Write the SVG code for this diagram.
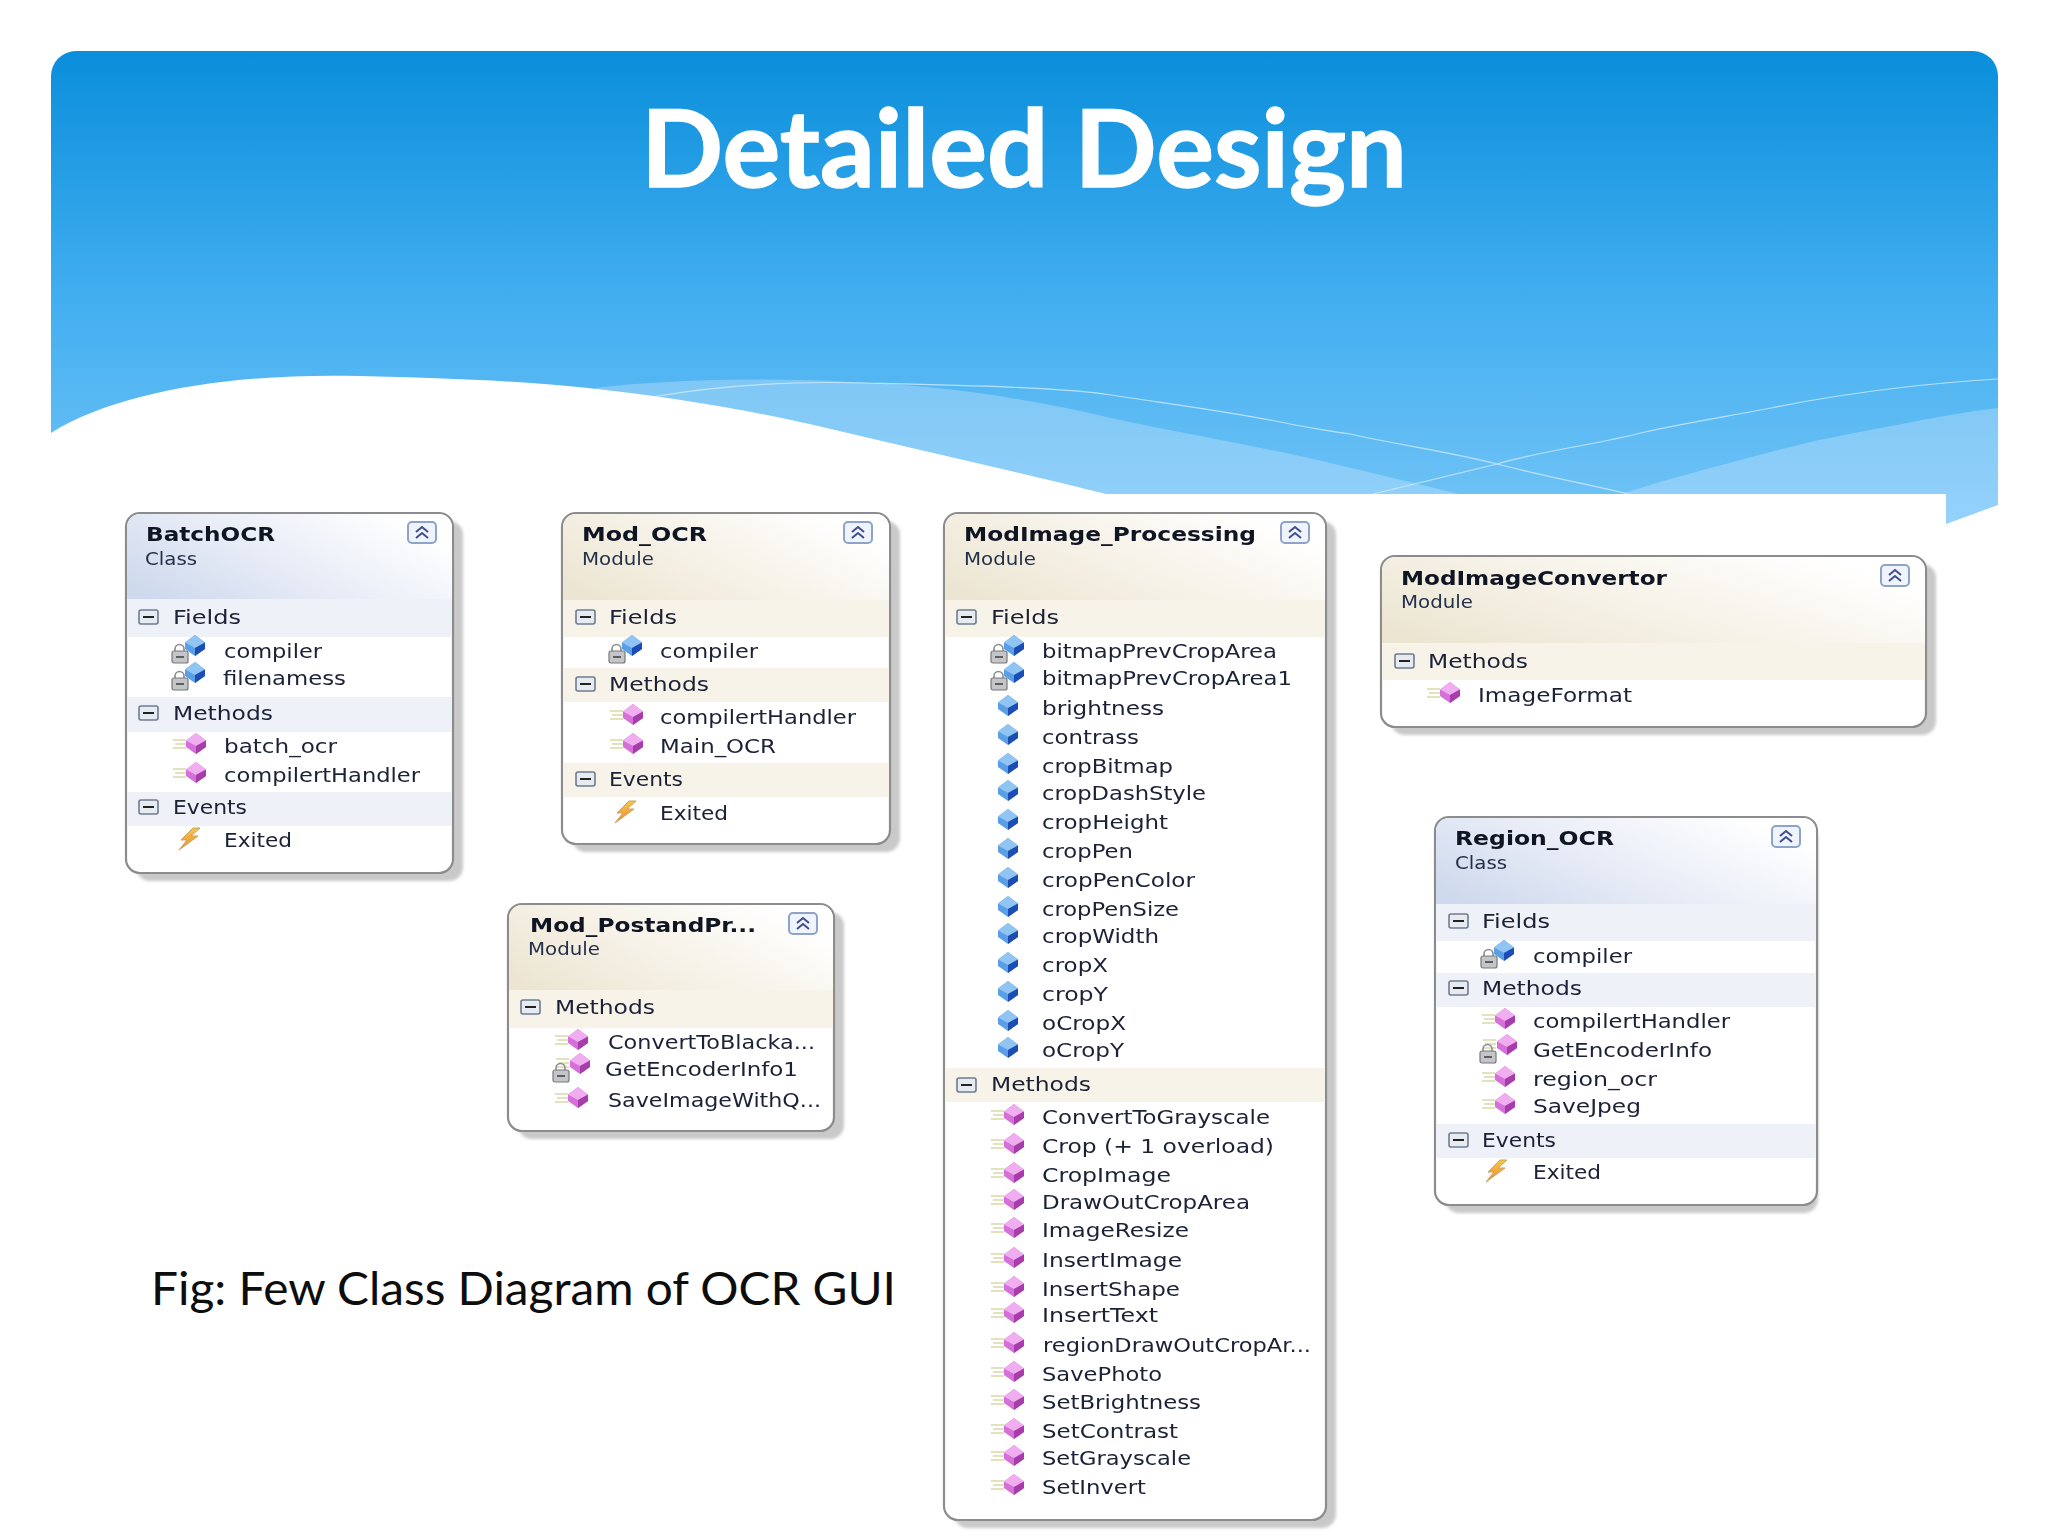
<svg xmlns="http://www.w3.org/2000/svg" xmlns:xlink="http://www.w3.org/1999/xlink" width="2048" height="1536" viewBox="0 0 2048 1536">
<style>
text{font-family:"DejaVu Sans","Liberation Sans",sans-serif;fill:#1b2136}
.t{font-weight:bold;font-size:20px;fill:#101222}
.s{font-size:17px;fill:#23304a}
.h,.i{font-size:20px}
.shadow{fill:#c9c9c9;filter:url(#shd)}
.box{fill:#fff;stroke:#8c8c8c;stroke-width:2.2}
.bc{fill:#eff1f8}.bm{fill:#f7f3e8}
.wl{fill:none;stroke:#d8effd;stroke-width:1.2;opacity:.75}
.title{font-family:Lato,"Liberation Sans",sans-serif;font-weight:bold;font-size:107px;fill:#fff;stroke:#fff;stroke-width:1.4}
.cap{font-family:Lato,"Liberation Sans",sans-serif;font-size:47px;fill:#0d0d0d}
</style>
<defs>
<linearGradient id="sky" gradientUnits="userSpaceOnUse" x1="0" y1="51" x2="0" y2="494"><stop offset="0" stop-color="#0a8edb"/><stop offset=".55" stop-color="#41aef0"/><stop offset="1" stop-color="#6cc1f5"/></linearGradient>
<linearGradient id="pale" gradientUnits="userSpaceOnUse" x1="0" y1="380" x2="0" y2="525"><stop offset="0" stop-color="#7fc7f5"/><stop offset="1" stop-color="#94d2fb"/></linearGradient>
<linearGradient id="hc" x1="0" y1=".85" x2="1" y2=".35"><stop offset="0" stop-color="#ced9ed"/><stop offset=".45" stop-color="#e6ebf6"/><stop offset="1" stop-color="#fff"/></linearGradient>
<linearGradient id="hm" x1="0" y1=".85" x2="1" y2=".35"><stop offset="0" stop-color="#ece5d2"/><stop offset=".45" stop-color="#f6f1e6"/><stop offset="1" stop-color="#fff"/></linearGradient>
<linearGradient id="bolt" x1="0" y1="0" x2="0" y2="1"><stop offset="0" stop-color="#f8c64a"/><stop offset="1" stop-color="#ee8a33"/></linearGradient>
<filter id="soft" x="-5%" y="-5%" width="110%" height="110%"><feGaussianBlur stdDeviation="0.55"/></filter>
<filter id="shd" x="-5%" y="-5%" width="110%" height="110%"><feGaussianBlur stdDeviation="1.8"/></filter>
<g id="mb"><rect x="0" y="-14" width="19" height="14" rx="2" fill="#e6ebf1" stroke="#6f7c90" stroke-width="1.6"/><path d="M4,-7H15" stroke="#222" stroke-width="2"/></g>
<g id="btn"><rect x="0" y="0" width="28" height="21" rx="4" fill="#eff3fb" stroke="#8fa3c8" stroke-width="2"/><path d="M8,10L14,5L20,10M8,16L14,11L20,16" fill="none" stroke="#3f4e8e" stroke-width="2"/></g>
<g id="dia"><path d="M0,-1L10,6.5V13L0,20L-10,13V6.5Z" fill="#5a9fe6"/><path d="M0,-1L10,6.5L0,12L-10,6.5Z" fill="#8fc4f3"/><path d="M0,12L10,6.5V13L0,20Z" fill="#1c4db4"/></g>
<g id="mdia"><path d="M0,-1L10,6.5V13L0,20L-10,13V6.5Z" fill="#d56fd8"/><path d="M0,-1L10,6.5L0,12L-10,6.5Z" fill="#f0aef0"/><path d="M0,12L10,6.5V13L0,20Z" fill="#a63cab"/></g>
<g id="lock"><path d="M3,0V-2a4,4 0 0 1 9,0V0" fill="none" stroke="#8b8b90" stroke-width="1.6"/><rect x="0" y="0" width="16" height="12" rx="2" fill="#c4c5c9" stroke="#77787d" stroke-width="1.2"/><path d="M4,6H12" stroke="#444" stroke-width="1.6"/></g>
<g id="lines"><path d="M0,0H13M2,4H13M0,8H13" stroke="#d9d9a6" stroke-width="1.5"/></g>
<g id="f"><use href="#dia" x="-35" y="-19"/></g>
<g id="lf"><use href="#lock" x="-52" y="-7"/><use href="#dia" x="-29" y="-22"/></g>
<g id="m"><use href="#lines" x="-51" y="-13"/><use href="#mdia" x="-28" y="-19"/></g>
<g id="lm"><use href="#lines" x="-50" y="-17"/><use href="#lock" x="-53" y="-6"/><use href="#mdia" x="-26" y="-22"/></g>
<g id="e"><path d="M-31,-19L-24,-19L-33,-11L-26,-11L-45,3L-37,-7L-43,-7Z" fill="url(#bolt)" stroke="#c8a25c" stroke-width="1"/></g>
</defs>

<g id="background">
<path d="M51,76a25,25 0 0 1 25,-25H1973a25,25 0 0 1 25,25V494H51Z" fill="url(#sky)"/>
<path d="M595,388C680,378 800,376 927,387C990,393 1050,404 1111,418C1175,432 1235,442 1295,455C1350,467 1400,480 1459,494V500H595Z" fill="url(#pale)"/>
<path d="M1624,493C1675,477 1725,464 1771,452C1815,440 1858,432 1897,425C1930,418 1965,412 1998,408V505L1946,524V494H1624Z" fill="url(#pale)"/>
<path class="wl" d="M652,397C720,385 790,381 863,383C950,385 1060,387 1111,395C1170,404 1235,412 1295,425C1315,429 1332,431 1350,434C1400,445 1450,452 1497,464C1540,475 1590,485 1628,494"/>
<path class="wl" d="M1373,494L1497,464C1545,450 1595,445 1645,432C1690,422 1730,416 1771,408C1815,399 1855,393 1897,388C1930,384 1965,381 1998,379"/>
<path d="M45,437L51,433C120,390 240,373 359,376C440,378 510,380 588,388C680,398 760,412 835,430C930,452 1020,473 1106,494V560H45Z" fill="#fff"/>
<rect x="45" y="494" width="1901" height="1042" fill="#fff"/>
<text class="title" x="641" y="187" textLength="766" lengthAdjust="spacingAndGlyphs">Detailed Design</text>
<text class="cap" x="151" y="1305" textLength="745" lengthAdjust="spacingAndGlyphs">Fig: Few Class Diagram of OCR GUI</text>
</g>

<g id="BatchOCR" filter="url(#soft)">
<rect class="shadow" x="136" y="521" width="327" height="360" rx="14"/>
<rect class="box" x="126" y="513" width="327" height="360" rx="14"/>
<path d="M127,599V527a13,13 0 0 1 13,-13H439a13,13 0 0 1 13,13V599Z" fill="url(#hc)"/>
<rect class="bc" x="127" y="599" width="325" height="38"/><rect class="bc" x="127" y="697" width="325" height="35"/><rect class="bc" x="127" y="792" width="325" height="34"/>
<use href="#btn" x="408" y="522"/>
<text class="t" x="146" y="541" textLength="129" lengthAdjust="spacingAndGlyphs">BatchOCR</text>
<text class="s" x="145" y="565" textLength="52" lengthAdjust="spacingAndGlyphs">Class</text>
<use href="#mb" x="139" y="624"/><text class="h" x="173" y="624" textLength="68" lengthAdjust="spacingAndGlyphs">Fields</text>
<use href="#lf" x="224" y="658"/><text class="i" x="224" y="658" textLength="98" lengthAdjust="spacingAndGlyphs">compiler</text>
<use href="#lf" x="224" y="685"/><text class="i" x="223" y="685" textLength="123" lengthAdjust="spacingAndGlyphs">filenamess</text>
<use href="#mb" x="139" y="720"/><text class="h" x="173" y="720" textLength="100" lengthAdjust="spacingAndGlyphs">Methods</text>
<use href="#m" x="224" y="753"/><text class="i" x="224" y="753" textLength="113" lengthAdjust="spacingAndGlyphs">batch_ocr</text>
<use href="#m" x="224" y="782"/><text class="i" x="224" y="782" textLength="196" lengthAdjust="spacingAndGlyphs">compilertHandler</text>
<use href="#mb" x="139" y="814"/><text class="h" x="173" y="814" textLength="74" lengthAdjust="spacingAndGlyphs">Events</text>
<use href="#e" x="224" y="847"/><text class="i" x="224" y="847" textLength="68" lengthAdjust="spacingAndGlyphs">Exited</text>
</g>

<g id="Mod_OCR" filter="url(#soft)">
<rect class="shadow" x="572" y="521" width="328" height="331" rx="14"/>
<rect class="box" x="562" y="513" width="328" height="331" rx="14"/>
<path d="M563,600V527a13,13 0 0 1 13,-13H876a13,13 0 0 1 13,13V600Z" fill="url(#hm)"/>
<rect class="bm" x="563" y="600" width="326" height="37"/><rect class="bm" x="563" y="668" width="326" height="34"/><rect class="bm" x="563" y="763" width="326" height="34"/>
<use href="#btn" x="844" y="522"/>
<text class="t" x="582" y="541" textLength="125" lengthAdjust="spacingAndGlyphs">Mod_OCR</text>
<text class="s" x="582" y="565" textLength="72" lengthAdjust="spacingAndGlyphs">Module</text>
<use href="#mb" x="576" y="624"/><text class="h" x="609" y="624" textLength="68" lengthAdjust="spacingAndGlyphs">Fields</text>
<use href="#lf" x="661" y="658"/><text class="i" x="660" y="658" textLength="98" lengthAdjust="spacingAndGlyphs">compiler</text>
<use href="#mb" x="576" y="691"/><text class="h" x="609" y="691" textLength="100" lengthAdjust="spacingAndGlyphs">Methods</text>
<use href="#m" x="661" y="724"/><text class="i" x="660" y="724" textLength="196" lengthAdjust="spacingAndGlyphs">compilertHandler</text>
<use href="#m" x="661" y="753"/><text class="i" x="660" y="753" textLength="116" lengthAdjust="spacingAndGlyphs">Main_OCR</text>
<use href="#mb" x="576" y="786"/><text class="h" x="609" y="786" textLength="74" lengthAdjust="spacingAndGlyphs">Events</text>
<use href="#e" x="660" y="820"/><text class="i" x="660" y="820" textLength="68" lengthAdjust="spacingAndGlyphs">Exited</text>
</g>

<g id="Mod_PostandPr" filter="url(#soft)">
<rect class="shadow" x="518" y="912" width="326" height="227" rx="14"/>
<rect class="box" x="508" y="904" width="326" height="227" rx="14"/>
<path d="M509,990V918a13,13 0 0 1 13,-13H820a13,13 0 0 1 13,13V990Z" fill="url(#hm)"/>
<rect class="bm" x="509" y="990" width="324" height="38"/>
<use href="#btn" x="789" y="913"/>
<text class="t" x="530" y="932" textLength="226" lengthAdjust="spacingAndGlyphs">Mod_PostandPr...</text>
<text class="s" x="528" y="955" textLength="72" lengthAdjust="spacingAndGlyphs">Module</text>
<use href="#mb" x="521" y="1014"/><text class="h" x="555" y="1014" textLength="100" lengthAdjust="spacingAndGlyphs">Methods</text>
<use href="#m" x="606" y="1049"/><text class="i" x="608" y="1049" textLength="207" lengthAdjust="spacingAndGlyphs">ConvertToBlacka...</text>
<use href="#lm" x="606" y="1076"/><text class="i" x="605" y="1076" textLength="193" lengthAdjust="spacingAndGlyphs">GetEncoderInfo1</text>
<use href="#m" x="606" y="1107"/><text class="i" x="608" y="1107" textLength="213" lengthAdjust="spacingAndGlyphs">SaveImageWithQ...</text>
</g>

<g id="ModImage_Processing" filter="url(#soft)">
<rect class="shadow" x="954" y="521" width="382" height="1007" rx="14"/>
<rect class="box" x="944" y="513" width="382" height="1007" rx="14"/>
<path d="M945,600V527a13,13 0 0 1 13,-13H1312a13,13 0 0 1 13,13V600Z" fill="url(#hm)"/>
<rect class="bm" x="945" y="600" width="380" height="37"/><rect class="bm" x="945" y="1068" width="380" height="34"/>
<use href="#btn" x="1281" y="522"/>
<text class="t" x="964" y="541" textLength="292" lengthAdjust="spacingAndGlyphs">ModImage_Processing</text>
<text class="s" x="964" y="565" textLength="72" lengthAdjust="spacingAndGlyphs">Module</text>
<use href="#mb" x="957" y="624"/><text class="h" x="991" y="624" textLength="68" lengthAdjust="spacingAndGlyphs">Fields</text>
<use href="#lf" x="1043" y="658"/><text class="i" x="1042" y="658" textLength="235" lengthAdjust="spacingAndGlyphs">bitmapPrevCropArea</text>
<use href="#lf" x="1043" y="685"/><text class="i" x="1042" y="685" textLength="250" lengthAdjust="spacingAndGlyphs">bitmapPrevCropArea1</text>
<use href="#f" x="1043" y="715"/><text class="i" x="1042" y="715" textLength="122" lengthAdjust="spacingAndGlyphs">brightness</text>
<use href="#f" x="1043" y="744"/><text class="i" x="1042" y="744" textLength="97" lengthAdjust="spacingAndGlyphs">contrass</text>
<use href="#f" x="1043" y="773"/><text class="i" x="1042" y="773" textLength="131" lengthAdjust="spacingAndGlyphs">cropBitmap</text>
<use href="#f" x="1043" y="800"/><text class="i" x="1042" y="800" textLength="164" lengthAdjust="spacingAndGlyphs">cropDashStyle</text>
<use href="#f" x="1043" y="829"/><text class="i" x="1042" y="829" textLength="126" lengthAdjust="spacingAndGlyphs">cropHeight</text>
<use href="#f" x="1043" y="858"/><text class="i" x="1042" y="858" textLength="91" lengthAdjust="spacingAndGlyphs">cropPen</text>
<use href="#f" x="1043" y="887"/><text class="i" x="1042" y="887" textLength="153" lengthAdjust="spacingAndGlyphs">cropPenColor</text>
<use href="#f" x="1043" y="916"/><text class="i" x="1042" y="916" textLength="137" lengthAdjust="spacingAndGlyphs">cropPenSize</text>
<use href="#f" x="1043" y="943"/><text class="i" x="1042" y="943" textLength="117" lengthAdjust="spacingAndGlyphs">cropWidth</text>
<use href="#f" x="1043" y="972"/><text class="i" x="1042" y="972" textLength="66" lengthAdjust="spacingAndGlyphs">cropX</text>
<use href="#f" x="1043" y="1001"/><text class="i" x="1042" y="1001" textLength="66" lengthAdjust="spacingAndGlyphs">cropY</text>
<use href="#f" x="1043" y="1030"/><text class="i" x="1042" y="1030" textLength="84" lengthAdjust="spacingAndGlyphs">oCropX</text>
<use href="#f" x="1043" y="1057"/><text class="i" x="1042" y="1057" textLength="82" lengthAdjust="spacingAndGlyphs">oCropY</text>
<use href="#mb" x="957" y="1092"/><text class="h" x="991" y="1091" textLength="100" lengthAdjust="spacingAndGlyphs">Methods</text>
<use href="#m" x="1042" y="1124"/><text class="i" x="1042" y="1124" textLength="228" lengthAdjust="spacingAndGlyphs">ConvertToGrayscale</text>
<use href="#m" x="1042" y="1153"/><text class="i" x="1042" y="1153" textLength="232" lengthAdjust="spacingAndGlyphs">Crop (+ 1 overload)</text>
<use href="#m" x="1042" y="1182"/><text class="i" x="1042" y="1182" textLength="129" lengthAdjust="spacingAndGlyphs">CropImage</text>
<use href="#m" x="1042" y="1209"/><text class="i" x="1042" y="1209" textLength="208" lengthAdjust="spacingAndGlyphs">DrawOutCropArea</text>
<use href="#m" x="1042" y="1237"/><text class="i" x="1042" y="1237" textLength="147" lengthAdjust="spacingAndGlyphs">ImageResize</text>
<use href="#m" x="1042" y="1267"/><text class="i" x="1042" y="1267" textLength="140" lengthAdjust="spacingAndGlyphs">InsertImage</text>
<use href="#m" x="1042" y="1296"/><text class="i" x="1042" y="1296" textLength="138" lengthAdjust="spacingAndGlyphs">InsertShape</text>
<use href="#m" x="1042" y="1322"/><text class="i" x="1042" y="1322" textLength="116" lengthAdjust="spacingAndGlyphs">InsertText</text>
<use href="#m" x="1042" y="1352"/><text class="i" x="1043" y="1352" textLength="268" lengthAdjust="spacingAndGlyphs">regionDrawOutCropAr...</text>
<use href="#m" x="1042" y="1381"/><text class="i" x="1042" y="1381" textLength="120" lengthAdjust="spacingAndGlyphs">SavePhoto</text>
<use href="#m" x="1042" y="1409"/><text class="i" x="1042" y="1409" textLength="159" lengthAdjust="spacingAndGlyphs">SetBrightness</text>
<use href="#m" x="1042" y="1438"/><text class="i" x="1042" y="1438" textLength="136" lengthAdjust="spacingAndGlyphs">SetContrast</text>
<use href="#m" x="1042" y="1465"/><text class="i" x="1042" y="1465" textLength="149" lengthAdjust="spacingAndGlyphs">SetGrayscale</text>
<use href="#m" x="1042" y="1494"/><text class="i" x="1042" y="1494" textLength="104" lengthAdjust="spacingAndGlyphs">SetInvert</text>
</g>

<g id="ModImageConvertor" filter="url(#soft)">
<rect class="shadow" x="1391" y="564" width="545" height="171" rx="14"/>
<rect class="box" x="1381" y="556" width="545" height="171" rx="14"/>
<path d="M1382,643V570a13,13 0 0 1 13,-13H1912a13,13 0 0 1 13,13V643Z" fill="url(#hm)"/>
<rect class="bm" x="1382" y="643" width="543" height="37"/>
<use href="#btn" x="1881" y="565"/>
<text class="t" x="1401" y="585" textLength="266" lengthAdjust="spacingAndGlyphs">ModImageConvertor</text>
<text class="s" x="1401" y="608" textLength="72" lengthAdjust="spacingAndGlyphs">Module</text>
<use href="#mb" x="1395" y="668"/><text class="h" x="1428" y="668" textLength="100" lengthAdjust="spacingAndGlyphs">Methods</text>
<use href="#m" x="1478" y="702"/><text class="i" x="1478" y="702" textLength="154" lengthAdjust="spacingAndGlyphs">ImageFormat</text>
</g>

<g id="Region_OCR" filter="url(#soft)">
<rect class="shadow" x="1445" y="825" width="373" height="388" rx="14"/>
<rect class="box" x="1435" y="817" width="382" height="388" rx="14"/>
<path d="M1436,904V831a13,13 0 0 1 13,-13H1803a13,13 0 0 1 13,13V904Z" fill="url(#hc)"/>
<rect class="bc" x="1436" y="904" width="380" height="37"/><rect class="bc" x="1436" y="973" width="380" height="34"/><rect class="bc" x="1436" y="1124" width="380" height="34"/>
<use href="#btn" x="1772" y="826"/>
<text class="t" x="1455" y="845" textLength="159" lengthAdjust="spacingAndGlyphs">Region_OCR</text>
<text class="s" x="1455" y="869" textLength="52" lengthAdjust="spacingAndGlyphs">Class</text>
<use href="#mb" x="1449" y="928"/><text class="h" x="1482" y="928" textLength="68" lengthAdjust="spacingAndGlyphs">Fields</text>
<use href="#lf" x="1533" y="963"/><text class="i" x="1533" y="963" textLength="99" lengthAdjust="spacingAndGlyphs">compiler</text>
<use href="#mb" x="1449" y="995"/><text class="h" x="1482" y="995" textLength="100" lengthAdjust="spacingAndGlyphs">Methods</text>
<use href="#m" x="1533" y="1028"/><text class="i" x="1533" y="1028" textLength="197" lengthAdjust="spacingAndGlyphs">compilertHandler</text>
<use href="#lm" x="1533" y="1057"/><text class="i" x="1533" y="1057" textLength="179" lengthAdjust="spacingAndGlyphs">GetEncoderInfo</text>
<use href="#m" x="1533" y="1086"/><text class="i" x="1533" y="1086" textLength="124" lengthAdjust="spacingAndGlyphs">region_ocr</text>
<use href="#m" x="1533" y="1113"/><text class="i" x="1533" y="1113" textLength="108" lengthAdjust="spacingAndGlyphs">SaveJpeg</text>
<use href="#mb" x="1449" y="1147"/><text class="h" x="1482" y="1147" textLength="74" lengthAdjust="spacingAndGlyphs">Events</text>
<use href="#e" x="1531" y="1179"/><text class="i" x="1533" y="1179" textLength="68" lengthAdjust="spacingAndGlyphs">Exited</text>
</g>
</svg>
